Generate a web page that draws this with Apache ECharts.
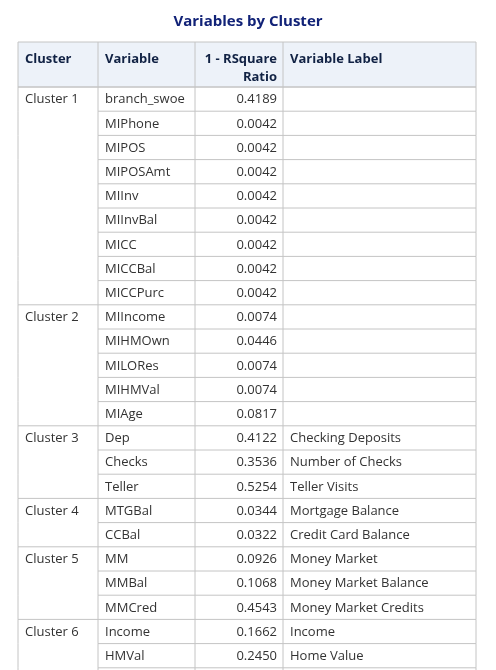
<!DOCTYPE html>
<html><head><meta charset="utf-8">
<script src="https://cdn.jsdelivr.net/npm/echarts@6/dist/echarts.min.js"></script>
<style>html,body{margin:0;padding:0;background:#fff}#c{width:496px;height:670px}</style>
</head><body><div id="c"></div>
<script>
const title = "Variables by Cluster";
const headers = ["Cluster", "Variable", "1 - RSquare\nRatio", "Variable Label"];
const clusters = ["Cluster 1","","","","","","","","","Cluster 2","","","","","Cluster 3","","","Cluster 4","","Cluster 5","","","Cluster 6","",""];
const variables = ["branch_swoe","MIPhone","MIPOS","MIPOSAmt","MIInv","MIInvBal","MICC","MICCBal","MICCPurc","MIIncome","MIHMOwn","MILORes","MIHMVal","MIAge","Dep","Checks","Teller","MTGBal","CCBal","MM","MMBal","MMCred","Income","HMVal",""];
const ratios = ["0.4189","0.0042","0.0042","0.0042","0.0042","0.0042","0.0042","0.0042","0.0042","0.0074","0.0446","0.0074","0.0074","0.0817","0.4122","0.3536","0.5254","0.0344","0.0322","0.0926","0.1068","0.4543","0.1662","0.2450",""];
const labels = ["","","","","","","","","","","","","","","Checking Deposits","Number of Checks","Teller Visits","Mortgage Balance","Credit Card Balance","Money Market","Money Market Balance","Money Market Credits","Income","Home Value",""];

const colX = [18, 98, 195, 283, 476];
const headTop = 42, headBot = 87, rowH = 24.2;
const border = '#c4c4c4', txt = '#333333', font = '"Open Sans","Noto Sans",sans-serif';

const rows = variables.map((v, i) => [i]);
rows.unshift([-1]);

const chart = echarts.init(document.getElementById('c'));
chart.setOption({
  animation: false,
  title: {text: title, left: 'center', top: 9, textStyle: {fontSize: 15, fontWeight: 'bold', color: '#112277', fontFamily: font}},
  grid: {left: 0, right: 0, top: 0, bottom: 0},
  xAxis: {type: 'value', min: 0, max: 496, show: false},
  yAxis: {type: 'value', min: 0, max: 670, inverse: true, show: false},
  series: [{
    type: 'custom', clip: false,
    data: rows,
    renderItem: function (params, api) {
      const i = api.value(0);
      const ch = [];
      const P = (x, y) => api.coord([x, y]);
      if (i === -1) {
        const a = P(colX[0], headTop), b = P(colX[4], headBot);
        ch.push({type: 'rect', shape: {x: a[0], y: a[1], width: b[0]-a[0], height: b[1]-a[1]}, style: {fill: '#edf2f9', stroke: border, lineWidth: 1}});
        for (let c = 1; c < 4; c++) {
          const p = P(colX[c], headTop), q = P(colX[c], headBot);
          ch.push({type: 'line', shape: {x1: p[0], y1: p[1], x2: q[0], y2: q[1]}, style: {stroke: border, lineWidth: 1}});
        }
        headers.forEach((h, c) => {
          const right = c === 2;
          const p = P(right ? colX[c+1] - 6 : colX[c] + 7, headTop + 8);
          ch.push({type: 'text', style: {x: p[0], y: p[1], text: h, fill: '#112244', font: 'bold 13px ' + font, align: right ? 'right' : 'left', verticalAlign: 'top', lineHeight: 18}});
        });
        return {type: 'group', children: ch};
      }
      const top = headBot + i * rowH, bot = top + rowH;
      for (let c = 0; c < 5; c++) {
        const p = P(colX[c], top), q = P(colX[c], bot);
        ch.push({type: 'line', shape: {x1: p[0], y1: p[1], x2: q[0], y2: q[1]}, style: {stroke: border, lineWidth: 1}});
      }
      const hs = clusters[i] ? colX[0] : colX[1];
      const p1 = P(hs, top), p2 = P(colX[4], top);
      ch.push({type: 'line', shape: {x1: p1[0], y1: p1[1], x2: p2[0], y2: p2[1]}, style: {stroke: border, lineWidth: 1}});
      const ym = top + rowH / 2 + 0.5;
      const cells = [clusters[i], variables[i], ratios[i], labels[i]];
      cells.forEach((t, c) => {
        if (!t) return;
        const right = c === 2;
        const p = P(right ? colX[c+1] - 6 : colX[c] + 7, ym);
        ch.push({type: 'text', style: {x: p[0], y: p[1], text: t, fill: txt, font: '13px ' + font, align: right ? 'right' : 'left', verticalAlign: 'middle'}});
      });
      return {type: 'group', children: ch};
    }
  }]
});
</script></body></html>
